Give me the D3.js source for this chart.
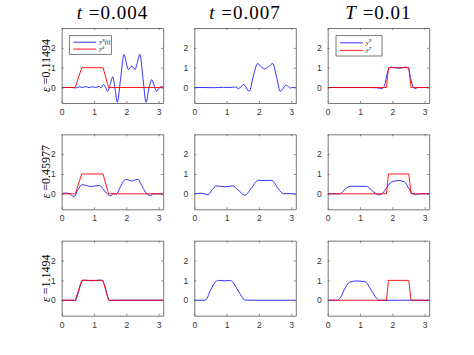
<!DOCTYPE html>
<html><head><meta charset="utf-8">
<script src="https://cdn.jsdelivr.net/npm/d3@7"></script>
<style>body{margin:0;background:#fff}</style>
</head><body>
<svg id="c" width="474" height="355"></svg>
<script>
// ---- data ----
const xTicks = [0, 1, 2, 3];
const yTicks = [0, 1, 2];
const xDomain = [0, Math.PI];
const yDomain = [-0.78, 3];
const colTitles = [["t", " =0.004"], ["t", " =0.007"], ["T", " =0.01"]];
const rowLabels = [["ε", " =0.11494"], ["ε", " =0.45977"], ["ε", " =1.1494"]];

// target profiles
const yd = [[0,0],[0.42,0],[0.62,1],[1.28,1],[1.45,0],[3.1416,0]];
const yT = [[0,0],[1.82,0],[1.88,1],[2.51,1],[2.58,0],[3.1416,0]];

// controlled state y^N, row 1 (eps = 0.11494)
const b11 = [[0,0],[0.15,0.01],[0.3,0],[0.45,-0.02],[0.55,0.04],[0.65,0],[0.75,0.05],[0.85,-0.01],[0.95,0.04],[1.05,0],[1.15,0.06],[1.22,-0.02],[1.29,0.15],[1.36,0],[1.42,-0.19],[1.5,0.15],[1.58,0.54],[1.65,-0.05],[1.72,-0.74],[1.82,0.4],[1.93,1.67],[2.0,1.25],[2.06,0.91],[2.17,1.08],[2.27,0.91],[2.34,1.25],[2.42,1.67],[2.52,0.4],[2.61,-0.74],[2.7,-0.05],[2.79,0.4],[2.86,0.1],[2.94,-0.19],[3.02,-0.02],[3.1,0.05],[3.1416,0.03]];
const b12 = [[0,0],[0.3,0],[0.6,-0.01],[0.9,0.01],[1.1,0],[1.27,0.03],[1.37,-0.05],[1.53,0.15],[1.7,-0.19],[1.83,0.6],[1.96,1.21],[2.07,1.05],[2.18,0.94],[2.3,1.05],[2.43,1.21],[2.55,0.5],[2.66,-0.19],[2.85,0.12],[2.97,-0.03],[3.05,0.01],[3.1416,0]];
const b13 = [[0,0],[1.2,0],[1.5,-0.01],[1.68,-0.05],[1.76,0.1],[1.84,0.7],[1.92,1.0],[1.97,1.03],[2.2,0.97],[2.43,1.03],[2.5,0.95],[2.57,0.45],[2.64,0.05],[2.7,-0.05],[2.8,0],[3.1416,0]];
// row 2 (eps = 0.45977)
const b21 = [[0,0],[0.12,0.04],[0.25,0],[0.38,-0.14],[0.5,0.2],[0.64,0.46],[0.9,0.37],[1.17,0.42],[1.3,0.2],[1.42,-0.02],[1.5,-0.1],[1.6,-0.01],[1.7,0],[1.8,0.3],[1.98,0.73],[2.17,0.65],[2.35,0.73],[2.5,0.35],[2.63,0],[2.74,-0.08],[2.85,0],[3.1416,0]];
const b22 = [[0,0],[0.18,0.03],[0.3,0],[0.43,-0.05],[0.55,0.2],[0.69,0.4],[0.95,0.35],[1.19,0.4],[1.35,0.2],[1.57,-0.07],[1.75,0.25],[1.98,0.68],[2.2,0.67],[2.4,0.68],[2.6,0.25],[2.76,0],[2.9,0.01],[3.1416,0]];
const b23 = [[0,0],[0.3,0],[0.4,0.02],[0.55,0.25],[0.7,0.38],[0.95,0.38],[1.2,0.38],[1.35,0.2],[1.5,0],[1.58,-0.05],[1.68,0],[1.8,0.25],[1.98,0.6],[2.2,0.67],[2.38,0.6],[2.5,0.3],[2.62,0.02],[2.72,-0.03],[2.85,0],[3.1416,0]];
// row 3 (eps = 1.1494)
const b31 = [[0,0],[0.35,0],[0.42,-0.03],[0.5,0.3],[0.6,0.85],[0.68,1.02],[0.95,0.98],[1.22,1.02],[1.32,0.8],[1.42,0.2],[1.5,-0.02],[1.6,0],[3.1416,0]];
const b32 = [[0,0],[0.3,0],[0.36,0.02],[0.5,0.5],[0.69,0.97],[0.75,1.0],[0.95,0.98],[1.1,1.0],[1.16,0.97],[1.35,0.5],[1.57,0.01],[1.65,0],[3.1416,0]];
const b33 = [[0,0],[0.28,0],[0.4,0.15],[0.55,0.65],[0.69,0.92],[0.9,0.97],[1.16,0.93],[1.35,0.5],[1.52,0.08],[1.58,0],[3.1416,0]];

const blueSeries = [[b11,b12,b13],[b21,b22,b23],[b31,b32,b33]];
const redSeries  = [[yd,null,yT],[yd,null,yT],[yd,null,yT]];

// ---- layout ----
const colLeft = [61.7, 194.3, 327.7];
const rowTop = [28, 134.3, 240.7];
const W = 101.5, H = 75;
const BLUE = "#1a1aff", RED = "#ff0000", AX = "#555";

const svg = d3.select("#c");
const x = d3.scaleLinear().domain(xDomain).range([0, W]);
const y = d3.scaleLinear().domain(yDomain).range([H, 0]);
const line = d3.line().x(d => x(d[0])).y(d => y(d[1]));
const smooth = d3.line().x(d => x(d[0])).y(d => y(d[1])).curve(d3.curveMonotoneX);
const fmt = d3.format("d");

for (let r = 0; r < 3; r++) {
  for (let c = 0; c < 3; c++) {
    const g = svg.append("g").attr("transform", `translate(${colLeft[c]},${rowTop[r]})`);
    const id = `clip${r}${c}`;
    g.append("clipPath").attr("id", id).append("rect").attr("width", W).attr("height", H);
    const plot = g.append("g").attr("clip-path", `url(#${id})`);
    plot.append("path").attr("d", smooth(blueSeries[r][c])).attr("fill","none").attr("stroke",BLUE).attr("stroke-width",0.9);
    if (redSeries[r][c]) plot.append("path").attr("d", line(redSeries[r][c])).attr("fill","none").attr("stroke",RED).attr("stroke-width",0.9);

    // axes (box with inward ticks)
    const xb = g.append("g").attr("transform", `translate(0,${H})`)
      .call(d3.axisBottom(x).tickValues(xTicks).tickFormat(fmt).tickSizeInner(-2).tickSizeOuter(0).tickPadding(6));
    const xt = g.append("g").call(d3.axisTop(x).tickValues(xTicks).tickSizeInner(-2).tickSizeOuter(0).tickFormat(""));
    const yl = g.append("g").call(d3.axisLeft(y).tickValues(yTicks).tickFormat(fmt).tickSizeInner(-2).tickSizeOuter(0).tickPadding(6));
    const yr = g.append("g").attr("transform", `translate(${W},0)`)
      .call(d3.axisRight(y).tickValues(yTicks).tickSizeInner(-2).tickSizeOuter(0).tickFormat(""));
    [xb,xt,yl,yr].forEach(a => {
      a.select(".domain").attr("stroke", AX).attr("stroke-width", 0.8);
      a.selectAll(".tick line").attr("stroke", AX).attr("stroke-width", 0.7);
      a.selectAll("text").attr("fill", "#333").style("font-family", "Liberation Sans, Arial, sans-serif").style("font-size", "8.5px");
    });

    if (r === 0) {
      const t = svg.append("text").attr("x", colLeft[c] + W/2).attr("y", 19)
        .attr("text-anchor","middle").style("font-family","Liberation Serif, serif").style("font-size","19px")
        .style("letter-spacing","1px").attr("fill","#000");
      t.append("tspan").style("font-style","italic").text(colTitles[c][0]);
      t.append("tspan").text(colTitles[c][1]);
    }
    if (c === 0) {
      const cy = rowTop[r] + H/2;
      const t = svg.append("text").attr("transform", `translate(49.5,${cy}) rotate(-90)`)
        .attr("text-anchor","middle").style("font-family","Liberation Serif, serif").style("font-size","12px").attr("fill","#000");
      t.append("tspan").style("font-style","italic").text(rowLabels[r][0]);
      t.append("tspan").text(rowLabels[r][1]);
    }
  }
}

// legends
function legend(x0, y0, w, h, items) {
  const g = svg.append("g").attr("transform", `translate(${x0},${y0})`);
  g.append("rect").attr("width", w).attr("height", h).attr("fill","#fff").attr("stroke","#444").attr("stroke-width",0.7);
  items.forEach((it, i) => {
    const yy = h * (i === 0 ? 0.35 : 0.72);
    g.append("line").attr("x1", 4).attr("x2", 27).attr("y1", yy).attr("y2", yy).attr("stroke", it.color).attr("stroke-width", 0.9);
    const t = g.append("text").attr("x", 30).attr("y", yy + 2).style("font-family","Liberation Serif, serif").style("font-size","6px").attr("fill","#000");
    t.append("tspan").style("font-style","italic").text("y");
    t.append("tspan").attr("dy", -2.5).style("font-size","4px").style("font-style","italic").text(it.sup);
    if (it.tail) t.append("tspan").attr("dy", 2.5).style("font-style","italic").text(it.tail);
  });
}
legend(69.3, 35.7, 42, 18.6, [{color: BLUE, sup: "N", tail: "(t)"}, {color: RED, sup: "d"}]);
legend(336, 35.7, 46, 20.3, [{color: BLUE, sup: "N"}, {color: RED, sup: "T"}]);
</script>
</body></html>
